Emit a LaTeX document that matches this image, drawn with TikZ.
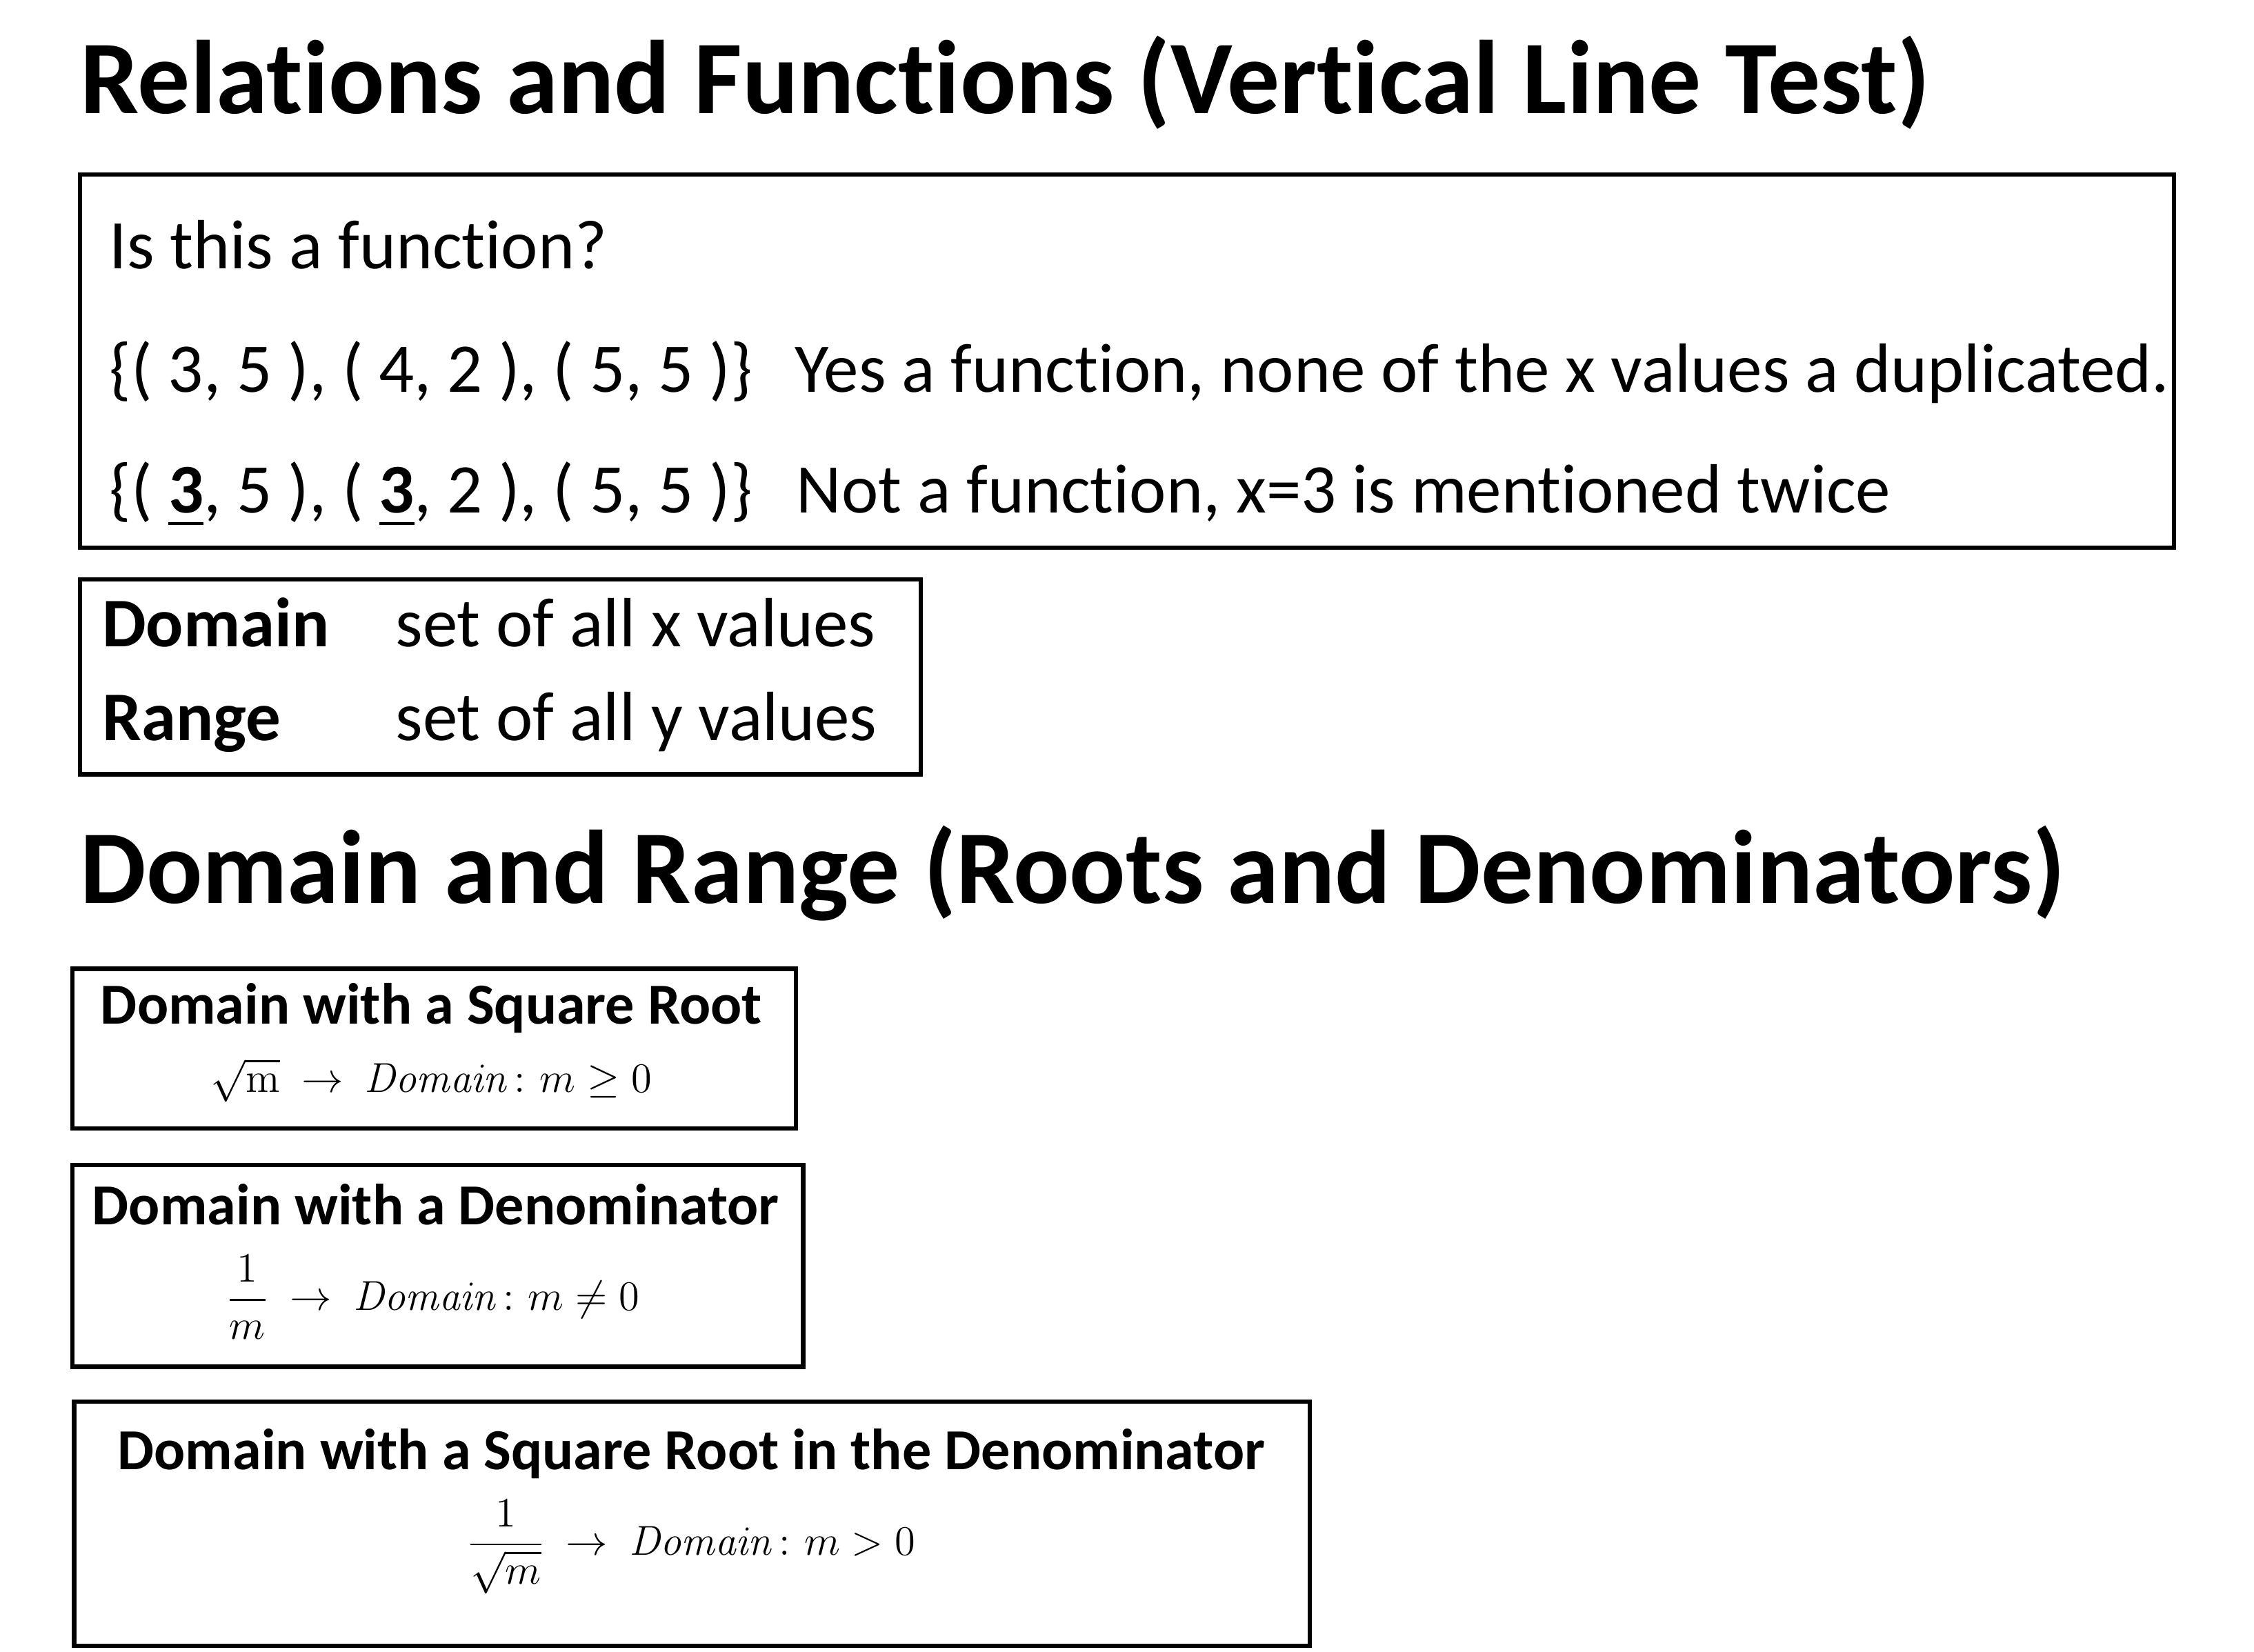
\documentclass[tikz,border=0pt]{standalone}
\usepackage{amsmath}
\usepackage[no-math]{fontspec}
\setmainfont[RawFeature=-liga]{Carlito}
\begin{document}
\begin{tikzpicture}[x=0.5pt,y=-0.5pt,
  txt/.style={anchor=base west,inner sep=0pt},
  box/.style={draw,line width=1.5pt},
  ttl/.style={txt,font=\fontsize{36pt}{40pt}\selectfont\bfseries},
  big/.style={txt,font=\fontsize{24pt}{28pt}\selectfont},
  sm/.style={anchor=base,inner sep=0pt,font=\fontsize{20pt}{24pt}\selectfont\bfseries},
  mth/.style={inner sep=0pt,font=\fontsize{15pt}{19pt}\selectfont}]
\useasboundingbox (0,0) rectangle (1552,1137);
\node[ttl] (t1) at (55,78) {Relations and Functions (Vertical Line Test)};
\draw[box] (55,120) rectangle (1497,377);
\node[big] (q) at (75,185) {Is this a function?};
\node[big] (r1) at (75,270) {\{( 3, 5 ), ( 4, 2 ), ( 5, 5 )\}};
\node[big] (a1) at (547,270) {Yes a function, none of the x values a duplicated.};
\node[big] (r2) at (75,353) {\{( \underline{\textbf{3}}, 5 ), ( \underline{\textbf{3}}, 2 ), ( 5, 5 )\}};
\node[big] (a2) at (548,353) {Not a function, x=3 is mentioned twice};
\draw[box] (55,399) rectangle (634,533);
\node[big,font=\fontsize{24pt}{28pt}\selectfont\bfseries] (d) at (70,445) {Domain};
\node[big] (dv) at (272,445) {set of all x values};
\node[big,font=\fontsize{24pt}{28pt}\selectfont\bfseries] (r) at (70,510) {Range};
\node[big] (rv) at (272,510) {set of all y values};
\node[ttl] (t2) at (55,622) {Domain and Range (Roots and Denominators)};
\draw[box] (50,667) rectangle (548,777);
\node[sm] (b1) at (297,705) {Domain with a Square Root};
\node[mth,anchor=base] (m1) at (297,752) {$\sqrt{\mathrm{m}}\ \rightarrow\ \mathit{Domain}\colon m\ge 0$};
\draw[box] (50,802) rectangle (553,941);
\node[sm] (b2) at (300,843) {Domain with a Denominator};
\node[mth] (m2) at (298,893) {$\dfrac{1}{m}\ \rightarrow\ \mathit{Domain}\colon m\ne 0$};
\draw[box] (51,965) rectangle (902,1133);
\node[sm] (b3) at (476,1012) {Domain with a Square Root in the Denominator};
\node[mth] (m3) at (476,1065) {$\dfrac{1}{\sqrt{m}}\ \rightarrow\ \mathit{Domain}\colon m>0$};
\end{tikzpicture}
\end{document}
